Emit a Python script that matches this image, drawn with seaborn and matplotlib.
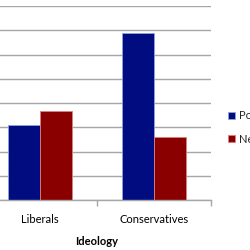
import matplotlib
matplotlib.use("Agg")
import matplotlib.pyplot as plt
import seaborn as sns
import pandas as pd
from matplotlib.patches import Patch

categories = ["Liberals", "Conservatives"]
series = ["Positive", "Negative"]
positive = [3.08, 6.88]
negative = [3.68, 2.6]

df = pd.DataFrame({
    "Ideology": categories * 2,
    "Series": [series[0]] * 2 + [series[1]] * 2,
    "Value": positive + negative,
})

sns.set_theme(style="white")
plt.rcParams["font.family"] = ["Lato", "DejaVu Sans"]

fig = plt.figure(figsize=(2.5, 2.5), dpi=100)
ax = fig.add_axes([-0.068, 0.2, 0.912, 0.776])

colors = {"Positive": "#000c80", "Negative": "#8a0000"}
edges = {"Positive": "#8fa3d6", "Negative": "#d98080"}
sns.barplot(data=df, x="Ideology", y="Value", hue="Series", palette=colors,
            width=0.57, ax=ax, legend=False, linewidth=0, saturation=1)
for bar_container, s in zip(ax.containers, series):
    for p in bar_container:
        p.set_edgecolor(edges[s])
        p.set_linewidth(0.6)

ax.set_xlim(-0.5, 1.5)
ax.set_ylim(0, 8)
ax.set_yticks(range(0, 9))
ax.yaxis.grid(True, color="#a6a6a6", linewidth=1)
ax.set_axisbelow(True)
ax.tick_params(axis="y", left=False, labelleft=False)
for s in ["top", "right", "left"]:
    ax.spines[s].set_visible(False)
ax.spines["bottom"].set_color("#a6a6a6")
ax.spines["bottom"].set_linewidth(1)
ax.set_xticks([-0.5, 0.5, 1.5], minor=True)
ax.tick_params(axis="x", which="minor", bottom=True, length=4, color="#a6a6a6", width=1, direction="out")
ax.tick_params(axis="x", which="major", bottom=False, labelsize=8, pad=4, labelcolor="black")
ax.set_xlabel("Ideology", fontsize=8, fontweight="bold", labelpad=8, color="black")
ax.set_ylabel("")

handles = [Patch(facecolor=colors[s], edgecolor=edges[s], linewidth=0.6) for s in series]
fig.legend(handles, series, loc="center left", bbox_to_anchor=(0.912, 0.49),
           frameon=False, fontsize=8, handlelength=0.6, handleheight=0.6,
           handletextpad=0.35, labelspacing=1.1, borderaxespad=0, borderpad=0)

fig.savefig("out.png", dpi=100)
